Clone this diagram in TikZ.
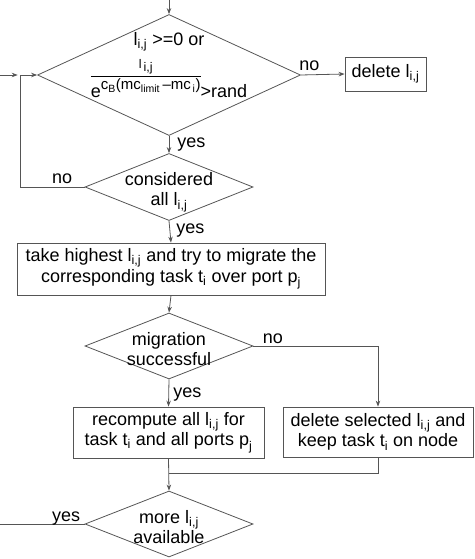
\documentclass[tikz,border=0pt]{standalone}
\usepackage{amsmath}
\usepackage{fontspec}
\setmainfont{Liberation Sans}
\usetikzlibrary{shapes.geometric, arrows.meta}
\definecolor{line-grey}{HTML}{555555}
\newcommand{\idx}[2]{\ensuremath{\text{#1}_{\text{#2}}}}

\begin{document}
\begin{tikzpicture}[x=1pt, y=-1pt, line width=0.8pt,
    every node/.style={font=\fontsize{18}{20.5}\selectfont},
    box/.style={draw=line-grey, rectangle, inner sep=0pt, align=center},
    decision/.style={draw=line-grey, diamond, inner sep=0pt},
    dtext/.style={align=center, inner sep=0pt, yshift=-3pt},
    flow/.style={draw=line-grey, -{Stealth[length=6pt, width=4.5pt, inset=2pt]}},
    wire/.style={draw=line-grey},
    lbl/.style={inner sep=0pt}]
  \useasboundingbox (0,0) rectangle (474,559);

  % decisions
  \node[decision, minimum width=263pt, minimum height=121pt] (chk) at (169,75) {};
  \node[align=center, inner sep=0pt] (chk-txt) at (169,65)
    {\idx{l}{i,j} >=0 or\\[8pt]
     $\dfrac{\mbox{\fontsize{12.5}{12.5}\selectfont l\,\raisebox{-2.5pt}{i,j}}}%
       {\text{e}\raisebox{8pt}{\fontsize{15}{15}\selectfont
          c\textsubscript{B}(mc\textsubscript{limit}\,--mc\textsubscript{\,i})}%
        \rlap{>rand}}$\phantom{>rand}};
  \node[decision, minimum width=168pt, minimum height=67pt] (all) at (169,187) {};
  \node[dtext, yshift=-2pt] (all-txt) at (all) {considered\\all \idx{l}{i,j}};
  \node[decision, minimum width=168pt, minimum height=66pt] (mig) at (169,346) {};
  \node[dtext] (mig-txt) at (mig) {migration\\successful};
  \node[decision, minimum width=168pt, minimum height=66pt] (more) at (169,524) {};
  \node[dtext] (more-txt) at (more) {more \idx{l}{i,j}\\available};

  % actions
  \node[box, minimum width=81pt, minimum height=34pt] (del) at (385.5,74) {delete \idx{l}{i,j}};
  \node[box, minimum width=308pt, minimum height=52pt] (take) at (171,269)
    {take highest \idx{l}{i,j} and try to migrate the\\
     corresponding task \idx{t}{i} over port \idx{p}{j}};
  \node[box, minimum width=191pt, minimum height=51pt] (rec) at (168.5,432.5)
    {recompute all \idx{l}{i,j} for\\task \idx{t}{i} and all ports \idx{p}{j}};
  \node[box, minimum width=190pt, minimum height=50pt] (dsel) at (378,432)
    {delete selected \idx{l}{i,j} and\\keep task \idx{t}{i} on node};

  \coordinate (top-in) at (169,0);
  \coordinate (left-in) at (0,75);
  \coordinate (loop) at (20.7,75);
  \coordinate (merge) at (169,473);
  \coordinate (left-out) at (0,524);

  % connectors
  \draw[flow] (top-in) -- (chk.north);
  \draw[flow, shorten >=3pt] (left-in) -- (loop);
  \draw[flow] (loop) -- (chk.west);
  \draw[flow] (chk.east) -- node[lbl, pos=0, anchor=base west, xshift=-2pt, yshift=4pt] {no} (del.west);
  \draw[flow] (chk.south) -- node[lbl, pos=0, anchor=base west, xshift=8pt, yshift=-12pt] {yes} (all.north);
  \draw[wire] (all.west) -- node[lbl, pos=0, anchor=base east, xshift=-12pt, yshift=4pt] {no} (all.west -| loop) -- (loop);
  \draw[flow] (all.south) -- node[lbl, pos=0, anchor=base west, xshift=7pt, yshift=-13pt] {yes} (take.north);
  \draw[flow] (take.south) -- (mig.north);
  \draw[flow] (mig.east) -| node[lbl, pos=0, anchor=base west, xshift=9pt, yshift=3pt] {no} (dsel.north);
  \draw[flow] (mig.south) -- node[lbl, pos=0, anchor=base west, xshift=4pt, yshift=-18pt] {yes} (rec.north);
  \draw[flow] (rec.south) -- (more.north);
  \draw[wire] (dsel.south) |- (merge);
  \draw[wire] (more.west) -- node[lbl, pos=0, anchor=base east, xshift=-4pt, yshift=3pt] {yes} (left-out);
\end{tikzpicture}
\end{document}
